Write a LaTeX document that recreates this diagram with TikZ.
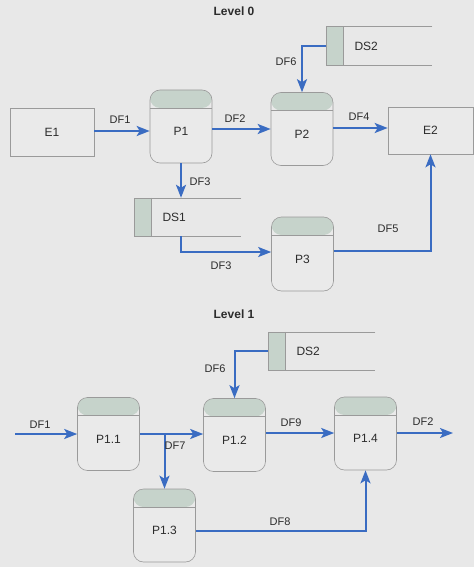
\documentclass[tikz,border=0pt]{standalone}
\usepackage{fontspec}
\setmainfont{Liberation Sans}
\usetikzlibrary{arrows.meta}
\definecolor{bgc}{HTML}{E8E8E8}
\definecolor{boxc}{HTML}{EAEAEA}
\definecolor{hdrc}{HTML}{C6D3CB}
\definecolor{bordc}{HTML}{9A9A9A}
\definecolor{flowc}{HTML}{3A6CC2}
\definecolor{txtc}{HTML}{2C2C2C}
\tikzset{
  proc/.style={draw=bordc, line width=0.6pt, fill=boxc, rounded corners=10pt,
    minimum width=62pt, minimum height=73pt, inner sep=0pt,
    path picture={\fill[hdrc] (path picture bounding box.north west) rectangle ([yshift=-18pt]path picture bounding box.north east);
      \draw[bordc,line width=0.6pt] ([yshift=-18pt]path picture bounding box.north west) -- ([yshift=-18pt]path picture bounding box.north east);}},
  ptext/.style={text=txtc, font=\fontsize{12}{14}\selectfont, yshift=-5pt},
  ent/.style={draw=bordc, line width=0.6pt, fill=boxc, minimum width=84pt, minimum height=48pt, inner sep=0pt,
    text=txtc, font=\fontsize{12}{14}\selectfont},
  storebox/.style={minimum height=38pt, inner sep=0pt, draw=none},
  stext/.style={text=txtc, font=\fontsize{12}{14}\selectfont, anchor=west},
  flabel/.style={text=txtc, font=\fontsize{11}{13}\selectfont, inner sep=0pt},
  title/.style={text=txtc, font=\bfseries\fontsize{12}{14}\selectfont},
  flow/.style={draw=flowc, line width=2pt, -{Stealth[length=13pt,width=10pt,inset=3pt]}},
}
\newcommand{\mystore}[5]{% name, west x, y, width, label
  \node[storebox, minimum width=#4pt, anchor=west] (#1) at (#2,#3) {};
  \fill[hdrc] (#1.north west) rectangle ([xshift=17pt]#1.south west);
  \draw[bordc, line width=0.6pt] (#1.north east) -- (#1.north west) -- (#1.south west) -- (#1.south east);
  \draw[bordc, line width=0.6pt] ([xshift=17pt]#1.north west) -- ([xshift=17pt]#1.south west);
  \node[stext] (#1t) at ([xshift=25pt]#1.west) {#5};
}
\begin{document}
\begin{tikzpicture}[x=1pt,y=-1pt]
\useasboundingbox (0,0) rectangle (474,567);
\fill[bgc] (0,0) rectangle (474,567);

% ---------- Level 0 ----------
\node[title] (t0) at (234,11) {Level 0};
\node[ent] (e1) at (52,132) {E1};
\node[ent, minimum width=85pt, minimum height=47pt] (e2) at (430.5,130.5) {E2};
\node[proc, label={[ptext, name=p1t]center:P1}] (p1) at (181,126.5) {};
\node[proc, label={[ptext, name=p2t]center:P2}] (p2) at (302,129) {};
\node[proc, minimum height=74pt, label={[ptext, name=p3t]center:P3}] (p3) at (302.5,254) {};
\mystore{ds2}{326}{46}{106}{DS2}
\mystore{ds1}{134}{217}{107}{DS1}

\draw[flow] (e1.east |- 0,131) -- (p1.west |- 0,131);
\draw[flow] (p1.east |- 0,129) -- (p2.west |- 0,129);
\draw[flow] (p2.east |- 0,128) -- (e2.west |- 0,128);
\draw[flow] (ds2.west) -| (p2.north);
\draw[flow] (p1.south) -- (p1.south |- ds1.north);
\draw[flow] (p1.south |- ds1.south) |- (p3.west |- 0,252);
\draw[flow] (p3.east |- 0,251) -| (e2.south);

\node[flabel] (l01) at (120,120) {DF1};
\node[flabel] (l02) at (235,119) {DF2};
\node[flabel] (l04) at (359,117) {DF4};
\node[flabel] (l06) at (286,62) {DF6};
\node[flabel] (l03a) at (200,182) {DF3};
\node[flabel] (l03b) at (221,266) {DF3};
\node[flabel] (l05) at (388,229) {DF5};

% ---------- Level 1 ----------
\node[title] (t1) at (234,314) {Level 1};
\mystore{ds2b}{268}{351}{107}{DS2}
\node[proc, label={[ptext, name=p11t]center:P1.1}] (p11) at (108.5,434) {};
\node[proc, label={[ptext, name=p12t]center:P1.2}] (p12) at (234.5,435) {};
\node[proc, label={[ptext, name=p14t]center:P1.4}] (p14) at (365.5,433.5) {};
\node[proc, label={[ptext, name=p13t]center:P1.3}] (p13) at (164.5,525.5) {};
\coordinate (in1) at (15,434);
\coordinate (out2) at (453,433);
\coordinate (br) at (p13.north |- 0,434);

\draw[flow] (in1) -- (p11.west |- in1);
\draw[flow] (p11.east |- 0,434) -- (p12.west |- 0,434);
\draw[flow] (br) -- (p13.north);
\draw[flow] (ds2b.west) -| (p12.north);
\draw[flow] (p12.east |- 0,433) -- (p14.west |- 0,433);
\draw[flow] (p14.east |- out2) -- (out2);
\draw[flow] (p13.east |- 0,531) -| (p14.south);

\node[flabel] (l11) at (40,425) {DF1};
\node[flabel] (l16) at (215,369) {DF6};
\node[flabel] (l17) at (175,446) {DF7};
\node[flabel] (l19) at (291,423) {DF9};
\node[flabel] (l12) at (423,422) {DF2};
\node[flabel] (l18) at (280,522) {DF8};
\end{tikzpicture}
\end{document}
